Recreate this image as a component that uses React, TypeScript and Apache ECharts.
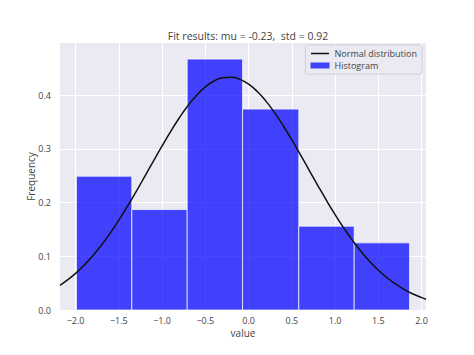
import React, { useEffect, useRef } from "react";
import * as echarts from "echarts";

const titleText = "Fit results: mu = -0.23,  std = 0.92";
const binEdges = [-1.99, -1.35, -0.71, -0.07, 0.58, 1.22, 1.86];
const binDensity = [0.249, 0.187, 0.467, 0.374, 0.156, 0.125];
const curveX = [-2.18, -2.1, -2.0, -1.9, -1.8, -1.7, -1.6, -1.5, -1.4, -1.3, -1.2, -1.1, -1.0, -0.9, -0.8, -0.7, -0.6, -0.5, -0.4, -0.3, -0.2, -0.1, 0.0, 0.1, 0.2, 0.3, 0.4, 0.5, 0.6, 0.7, 0.8, 0.9, 1.0, 1.1, 1.2, 1.3, 1.4, 1.5, 1.6, 1.7, 1.8, 1.9, 2.0, 2.05];
const curveY = [0.0459, 0.0550, 0.0681, 0.0835, 0.1011, 0.1210, 0.1431, 0.1672, 0.1932, 0.2205, 0.2487, 0.2773, 0.3055, 0.3326, 0.3579, 0.3806, 0.3999, 0.4154, 0.4263, 0.4324, 0.4334, 0.4293, 0.4203, 0.4066, 0.3888, 0.3673, 0.3430, 0.3165, 0.2887, 0.2601, 0.2317, 0.2039, 0.1774, 0.1525, 0.1296, 0.1088, 0.0903, 0.0740, 0.0600, 0.0480, 0.0380, 0.0297, 0.0230, 0.0201];
const xTicks = [-2.0, -1.5, -1.0, -0.5, 0.0, 0.5, 1.0, 1.5, 2.0];
const yTicks = [0.0, 0.1, 0.2, 0.3, 0.4];

const FONT = "'Open Sans', 'Noto Sans', sans-serif";
const TEXT = "#444444";
const LINE_ICON = "path://M0,0H0.01V0.01H0Z M0,2.2H18V3.8H0Z M17.99,5.99H18V6H17.99Z";

export default function App() {
  const ref = useRef<HTMLDivElement>(null);
  useEffect(() => {
    if (!ref.current) return;
    const chart = echarts.init(ref.current, undefined, { renderer: "svg" });
    const histData = binDensity.map((h, i) => [binEdges[i], binEdges[i + 1], h]);
    const lineData = curveX.map((x, i) => [x, curveY[i]]);
    chart.setOption({
      animation: false,
      backgroundColor: "#ffffff",
      textStyle: { fontFamily: FONT },
      title: {
        text: titleText,
        left: 243,
        textAlign: "center",
        top: 25,
        textStyle: { fontSize: 10.5, fontWeight: "normal", color: TEXT, fontFamily: FONT },
      },
      legend: {
        orient: "vertical",
        right: 52,
        top: 45,
        padding: [4, 5, 4, 5],
        itemGap: 3,
        itemWidth: 19,
        itemHeight: 6,
        backgroundColor: "rgba(234,234,242,0.85)",
        borderColor: "#d0d0d8",
        borderWidth: 1,
        borderRadius: 2,
        textStyle: { fontSize: 9, color: TEXT, fontFamily: FONT },
        data: [
          { name: "Normal distribution", icon: LINE_ICON, itemStyle: { color: "#111111", borderWidth: 0 } },
          { name: "Histogram", icon: "rect", itemStyle: { color: "rgba(0,0,255,0.72)", borderWidth: 0 } },
        ],
      },
      grid: {
        left: 60,
        right: 48,
        top: 43,
        bottom: 45,
        show: true,
        backgroundColor: "#EAEAF2",
        borderWidth: 0,
      },
      xAxis: {
        type: "value",
        min: -2.18,
        max: 2.05,
        name: "value",
        nameLocation: "middle",
        nameGap: 18,
        nameMoveOverlap: false,
        nameTextStyle: { fontSize: 10, color: TEXT, fontFamily: FONT },
        axisLine: { show: false },
        axisTick: { show: false, customValues: xTicks },
        axisLabel: {
          customValues: xTicks,
          fontSize: 9,
          color: TEXT,
          margin: 6,
          formatter: (v: number) => v.toFixed(1).replace("-", "\u2212"),
        },
        splitLine: { show: true, lineStyle: { color: "#ffffff", width: 1 } },
      },
      yAxis: {
        type: "value",
        min: 0,
        max: 0.497,
        name: "Frequency",
        nameLocation: "middle",
        nameGap: 24,
        nameMoveOverlap: false,
        nameTextStyle: { fontSize: 10, color: TEXT, fontFamily: FONT },
        axisLine: { show: false },
        axisTick: { show: false, customValues: yTicks },
        axisLabel: {
          customValues: yTicks,
          fontSize: 9,
          color: TEXT,
          margin: 9,
          formatter: (v: number) => v.toFixed(1),
        },
        splitLine: { show: true, lineStyle: { color: "#ffffff", width: 1 } },
      },
      series: [
        {
          name: "Histogram",
          type: "custom",
          data: histData,
          encode: { x: [0, 1], y: 2 },
          renderItem: (params: any, api: any) => {
            const p0 = api.coord([api.value(0), api.value(2)]);
            const p1 = api.coord([api.value(1), 0]);
            return {
              type: "rect",
              shape: { x: p0[0], y: p0[1], width: p1[0] - p0[0], height: p1[1] - p0[1] },
              style: { fill: "rgba(0,0,255,0.72)", stroke: "rgba(255,255,255,0.7)", lineWidth: 1 },
            };
          },
          itemStyle: { color: "rgba(0,0,255,0.72)" },
          z: 2,
        },
        {
          name: "Normal distribution",
          type: "line",
          data: lineData,
          smooth: true,
          symbol: "none",
          lineStyle: { color: "#111111", width: 1.5 },
          itemStyle: { color: "#111111" },
          z: 3,
        },
      ],
    });
    return () => chart.dispose();
  }, []);
  return <div ref={ref} style={{ width: 474, height: 355, position: "absolute", left: 0, top: 0 }} />;
}
